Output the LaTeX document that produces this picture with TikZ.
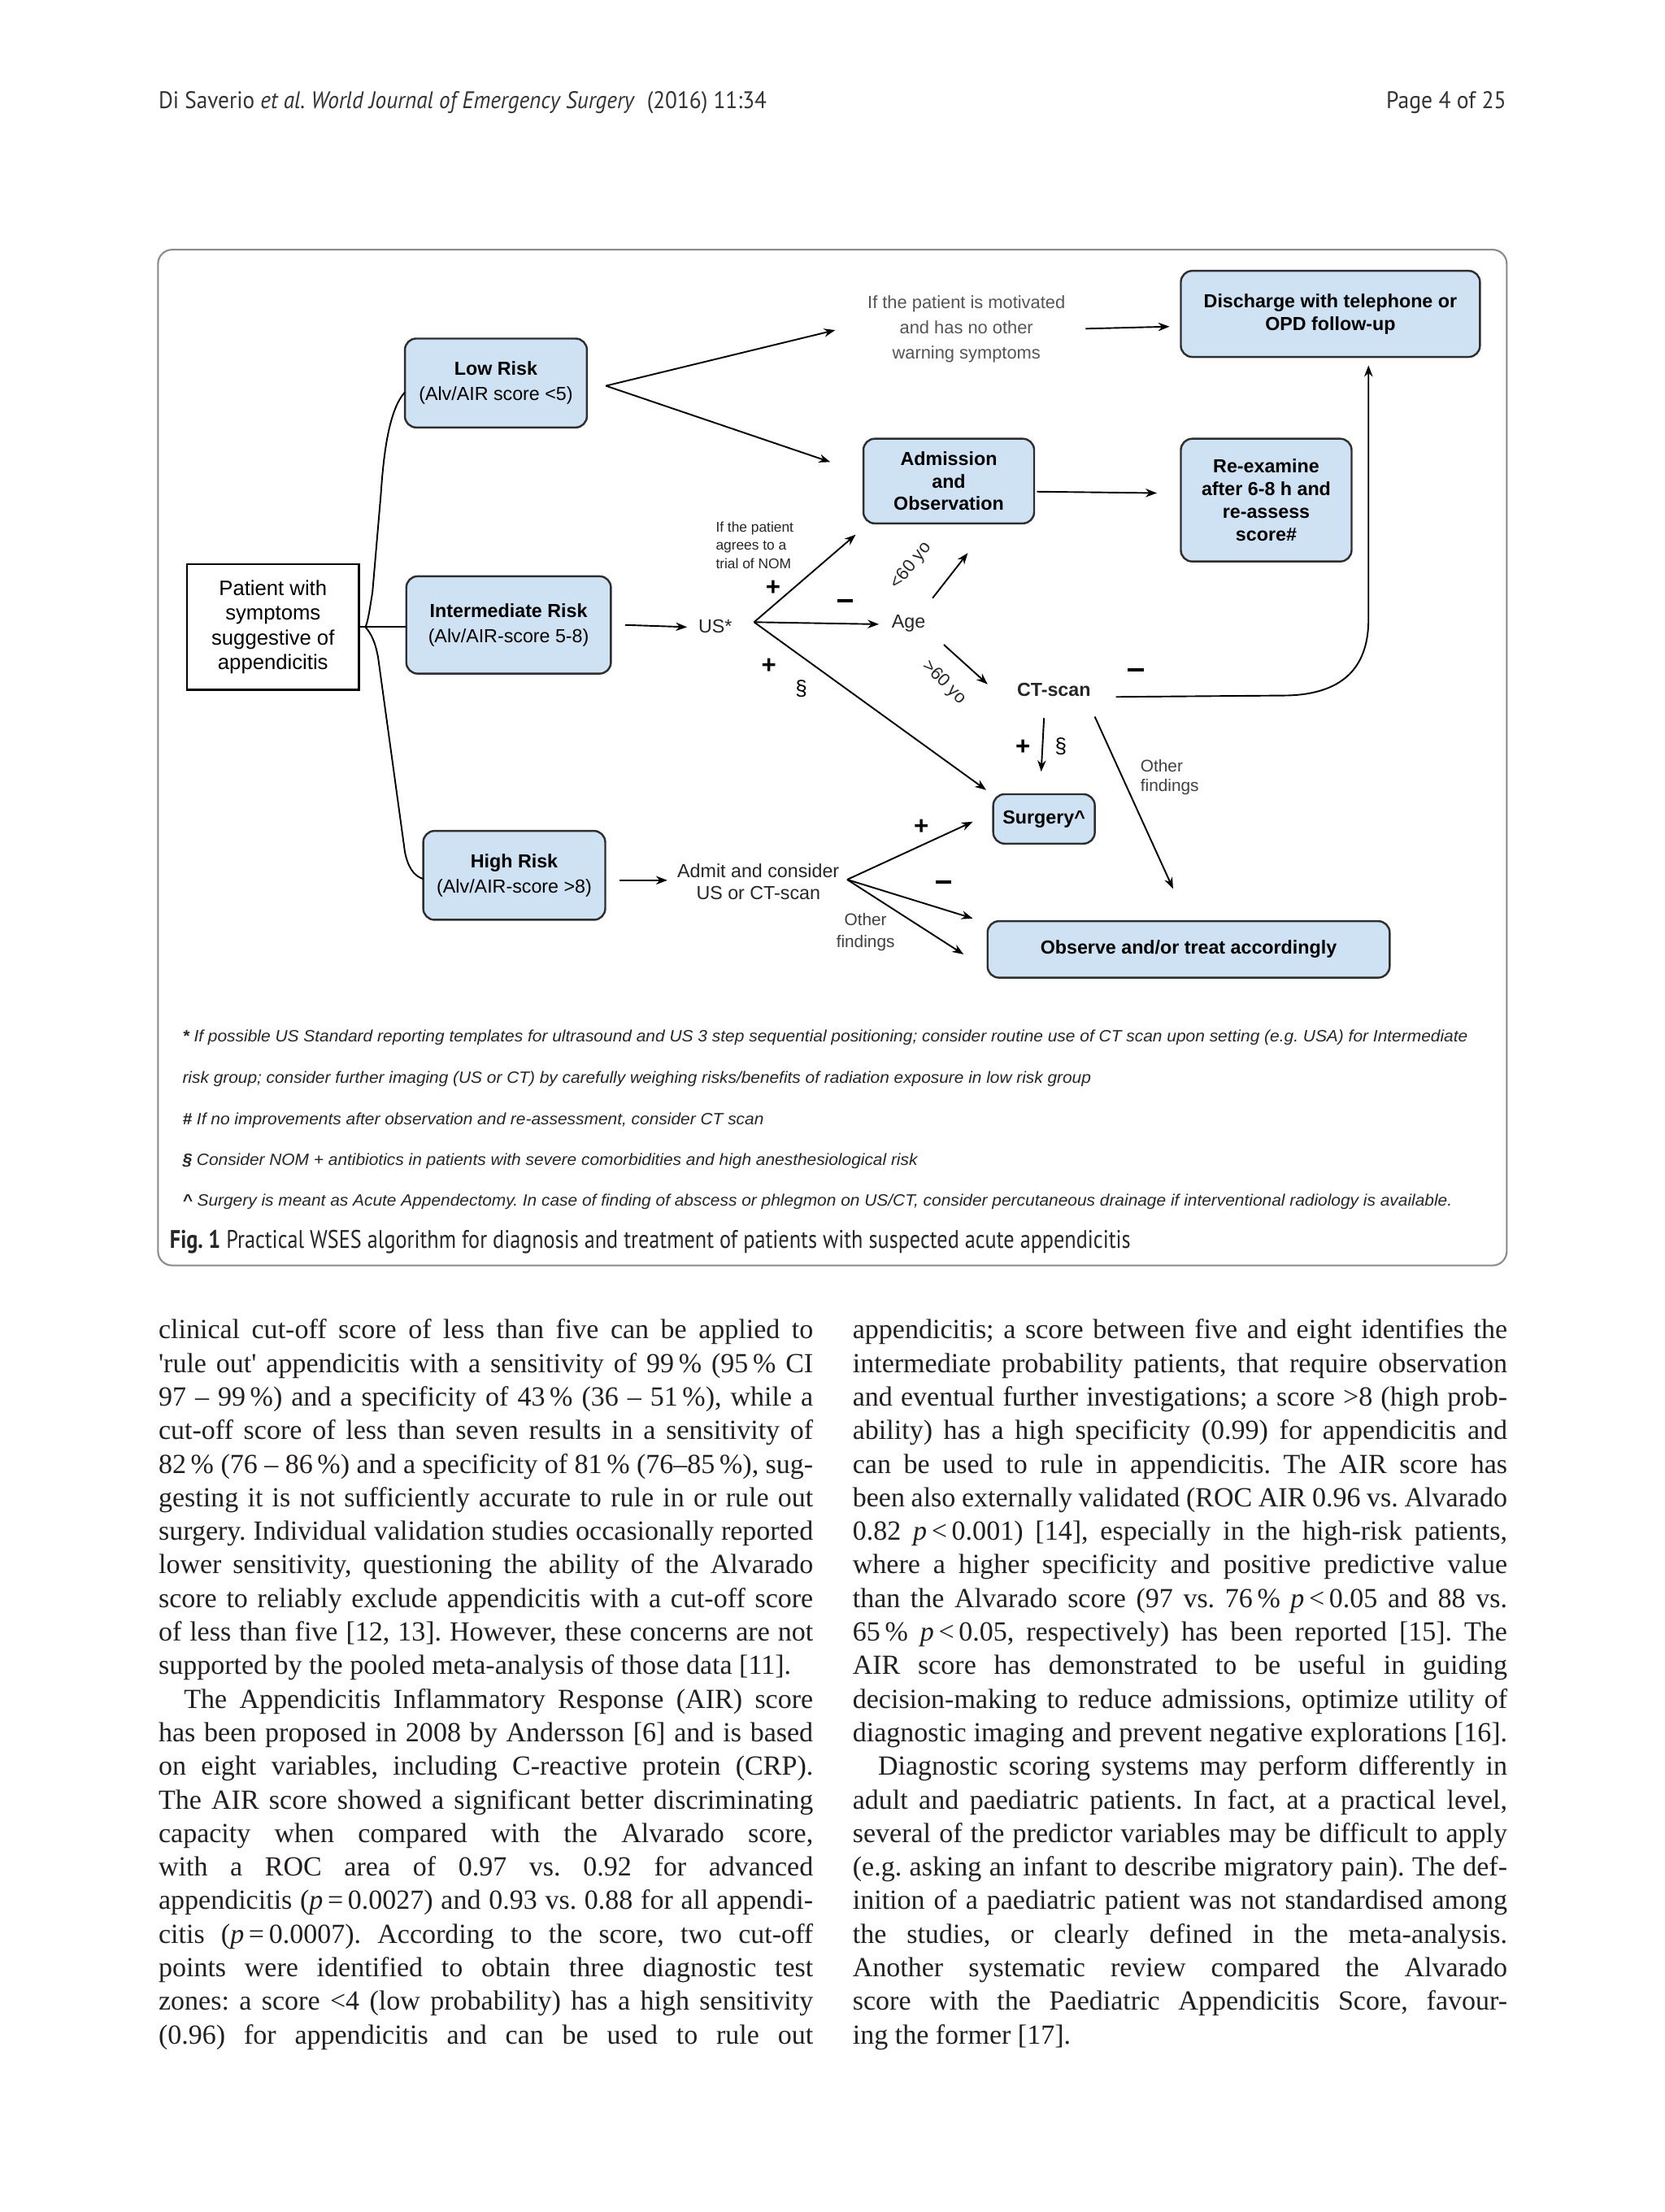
\documentclass[tikz,border=0pt]{standalone}
\usepackage{fontspec}
\usepackage{graphicx}
\setmainfont{Liberation Serif}
\newfontfamily\arialf[Ligatures=TeX]{Liberation Sans}
\newfontfamily\ptsans[Ligatures=TeX]{PT Sans}
\usetikzlibrary{arrows.meta,positioning}
\definecolor{boxblue}{HTML}{CFE2F3}
\definecolor{boxline}{HTML}{2E2E2E}
\definecolor{framegray}{HTML}{8A8A8A}
\definecolor{notegray}{HTML}{555555}
\definecolor{inkgray}{HTML}{231F20}
\newcommand{\bodyline}[1]{\makebox[232pt][s]{#1}}
\newcommand{\fitw}[2]{\resizebox{#1}{\height}{#2}}
\newcommand{\minusbar}{\rule{5.5pt}{1.1pt}}
\frenchspacing
\tikzset{
  conn/.style={line width=0.55pt, draw=black},
  arr/.style={conn, -{Stealth[length=4pt,width=3pt]}},
  riskbox/.style={draw=boxline, fill=boxblue, line width=0.7pt, rounded corners=4pt,
    align=center, inner sep=0pt, font=\arialf\fontsize{6.7}{9}\selectfont},
  boldbox/.style={riskbox, font=\arialf\bfseries\fontsize{6.7}{8}\selectfont},
  plainbox/.style={draw=black, line width=0.7pt, align=center, inner sep=0pt,
    font=\arialf\fontsize{7.4}{8.8}\selectfont},
  flowtxt/.style={align=center, inner sep=0pt, text=black!85, font=\arialf\fontsize{6.7}{7.8}\selectfont},
  sign/.style={inner sep=0pt, font=\arialf\bfseries\fontsize{9}{9}\selectfont},
  sect/.style={inner sep=0pt, font=\arialf\fontsize{7.5}{8}\selectfont},
  bodytxt/.style={anchor=base west, inner sep=0pt, text=inkgray, font=\fontsize{9.8}{11.9}\selectfont},
  notetxt/.style={anchor=base west, inner sep=0pt, text=black!85, font=\arialf\itshape\fontsize{5.8}{7}\selectfont},
}
\begin{document}
\begin{tikzpicture}[x=0.5pt,y=-0.5pt]
  \useasboundingbox (0,0) rectangle (1180,1568);
  \fill[white] (0,0) rectangle (1180,1568);
  % running head
  \node[anchor=base west, inner sep=0pt, text=black!80] (head) at (112,77)
    {\fitw{215.5pt}{\ptsans\fontsize{8.5}{10}\selectfont Di Saverio \textit{et al. World Journal of Emergency Surgery}\ \ (2016) 11:34}};
  \node[anchor=base east, inner sep=0pt, text=black!80] (page) at (1068,77)
    {\fitw{42.5pt}{\ptsans\fontsize{8.5}{10}\selectfont Page 4 of 25}};
  % figure frame
  \draw[framegray, line width=0.6pt, rounded corners=5pt] (112,177) rectangle (1068,897);

  % boxes
  \node[plainbox, minimum width=61pt, minimum height=44.5pt] (patient) at (193.5,444.5)
    {Patient with\\symptoms\\suggestive of\\appendicitis};
  \node[riskbox, minimum width=64.5pt, minimum height=31.5pt] (low) at (351.5,271.5)
    {\textbf{Low Risk}\\(Alv/AIR score <5)};
  \node[riskbox, minimum width=72.5pt, minimum height=34.5pt] (inter) at (360.5,443)
    {\textbf{Intermediate Risk}\\(Alv/AIR-score 5-8)};
  \node[riskbox, minimum width=64.5pt, minimum height=31.5pt] (high) at (364.5,620.5)
    {\textbf{High Risk}\\(Alv/AIR-score >8)};
  \node[boldbox, minimum width=106pt, minimum height=30.5pt] (disch) at (943,222.5)
    {Discharge with telephone or\\OPD follow-up};
  \node[boldbox, minimum width=60.5pt, minimum height=30pt] (adm) at (672.5,341)
    {Admission\\and\\Observation};
  \node[boldbox, minimum width=60.5pt, minimum height=43.5pt] (reex) at (897.5,354.5)
    {Re-examine\\after 6-8 h and\\re-assess\\score\#};
  \node[boldbox, minimum width=36pt, minimum height=17.5pt] (surg) at (740,580.5)
    {Surgery\textasciicircum};
  \node[boldbox, minimum width=142.5pt, minimum height=20pt] (obs) at (842.5,673)
    {Observe and/or treat accordingly};

  % free texts
  \node[flowtxt, text=notegray, font=\arialf\fontsize{6.3}{8.9}\selectfont] (motiv) at (685,233.5)
    {If the patient is motivated\\and has no other\\warning symptoms};
  \node[flowtxt] (us) at (507,444) {US*};
  \node[flowtxt, anchor=west, align=left, font=\arialf\fontsize{5}{6.5}\selectfont] (nom) at (507,386.5)
    {If the patient\\agrees to a\\trial of NOM};
  \node[flowtxt] (age) at (644,442) {Age};
  \node[flowtxt, font=\arialf\bfseries\fontsize{6.7}{8}\selectfont] (ct) at (747,489) {CT-scan};
  \node[flowtxt] (admit) at (537.5,624.8) {Admit and consider\\US or CT-scan};
  \node[flowtxt, anchor=west, align=left, text=black!75, font=\arialf\fontsize{6}{6.8}\selectfont] (otherct) at (808,551)
    {Other\\findings};
  \node[flowtxt, text=black!75, font=\arialf\fontsize{6}{7.8}\selectfont] (otherhi) at (613.5,661)
    {Other\\findings};
  \node[flowtxt, rotate=52, font=\arialf\fontsize{6.3}{7}\selectfont] (lt60) at (646,401) {<60 yo};
  \node[flowtxt, rotate=-45, font=\arialf\fontsize{6.3}{7}\selectfont] (gt60) at (669,484) {>60 yo};

  % signs
  \node[sign] (plusnom) at (548,417) {+};
  \node[sign] (minusage) at (599,426) {\minusbar};
  \node[sign] (plussurg) at (545,472) {+};
  \node[sect] (sectus) at (568,488) {\S};
  \node[sign] (minusct) at (805,475) {\minusbar};
  \node[sign] (plusct) at (725,530) {+};
  \node[sect] (sectct) at (752,529) {\S};
  \node[sign] (plushi) at (653,586) {+};
  \node[sign] (minushi) at (669,625) {\minusbar};

  % connector end points
  \coordinate (tip) at (259,444.5);
  \coordinate (lowin) at (287,278);
  \coordinate (highin) at (300,623);
  \coordinate (lowfork) at (429.5,273.5);
  \coordinate (motivin) at (592,234);
  \coordinate (admin) at (588.5,327.5);
  \coordinate (motivout) at (769.5,233);
  \coordinate (dischin) at (829,231.5);
  \coordinate (admout) at (735,348.5);
  \coordinate (reexin) at (820,349.5);
  \coordinate (interout) at (443,443);
  \coordinate (usin) at (487,444.5);
  \coordinate (usfork) at (534.5,441);
  \coordinate (nomup) at (606.5,379);
  \coordinate (agein) at (623,442.5);
  \coordinate (surgin) at (699,560);
  \coordinate (ltfrom) at (661,424);
  \coordinate (ltto) at (686,392);
  \coordinate (gtfrom) at (669,457);
  \coordinate (gtto) at (700,485);
  \coordinate (ctout) at (791,494);
  \coordinate (dischbot) at (970,259);
  \coordinate (ctdown) at (740,509);
  \coordinate (surgtop) at (738,547);
  \coordinate (ctdiag) at (776,508);
  \coordinate (obstop) at (831.5,630);
  \coordinate (highout) at (439,624);
  \coordinate (admitin) at (473,624);
  \coordinate (hifork) at (600.5,623.5);
  \coordinate (hisurg) at (689.5,582.5);
  \coordinate (hiobs) at (689.5,651);
  \coordinate (hiother) at (683,676.5);

  % brace from the patient box to the three risk groups
  \draw[conn] (lowin) .. controls (276,290) and (272,320) .. (270,350) -- (264,420)
    .. controls (262,432) and (261,440) .. (tip)
    .. controls (263,449) and (266,455) .. (268,466) -- (287,604)
    .. controls (289,614) and (293,621) .. (highin);
  \draw[conn] (patient.east) -- (tip) -- (tip -| inter.west);

  % low risk
  \draw[arr] (lowfork) -- (motivin);
  \draw[arr] (lowfork) -- (admin);
  \draw[arr] (motivout) -- (dischin);
  \draw[arr] (admout) -- (reexin);

  % intermediate risk
  \draw[arr] (interout) -- (usin);
  \draw[arr] (usfork) -- (nomup);
  \draw[arr] (usfork) -- (agein);
  \draw[arr] (usfork) -- (surgin);
  \draw[arr] (ltfrom) -- (ltto);
  \draw[arr] (gtfrom) -- (gtto);
  \draw[arr] (ctout) -- (912,493) .. controls (955,492) and (970,470) .. (970,439) -- (dischbot);
  \draw[arr] (ctdown) -- (surgtop);
  \draw[arr] (ctdiag) -- (obstop);

  % high risk
  \draw[arr] (highout) -- (admitin);
  \draw[arr] (hifork) -- (hisurg);
  \draw[arr] (hifork) -- (hiobs);
  \draw[arr] (hifork) -- (hiother);

  % footnotes and caption
  \node[notetxt] (note1) at (129,738.5) {\fitw{455.5pt}{\textbf{*} If possible US Standard reporting templates for ultrasound and US 3 step sequential positioning; consider routine use of CT scan upon setting (e.g. USA) for Intermediate}};
  \node[notetxt] (note2) at (129,768) {\fitw{322pt}{risk group; consider further imaging (US or CT) by carefully weighing risks/benefits of radiation exposure in low risk group}};
  \node[notetxt] (note3) at (129,797) {\fitw{206pt}{\textbf{\#} If no improvements after observation and re-assessment, consider CT scan}};
  \node[notetxt] (note4) at (129,826) {\fitw{260.5pt}{\textbf{\S} Consider NOM + antibiotics in patients with severe comorbidities and high anesthesiological risk}};
  \node[notetxt] (note5) at (129,855) {\fitw{450pt}{\textbf{\textasciicircum} Surgery is meant as Acute Appendectomy. In case of finding of abscess or phlegmon on US/CT, consider percutaneous drainage if interventional radiology is available.}};
  \node[anchor=base west, inner sep=0pt, text=black!85] (caption) at (120,885)
    {\fitw{340.5pt}{\ptsans\fontsize{9}{11}\selectfont\textbf{Fig. 1} Practical WSES algorithm for diagnosis and treatment of patients with suspected acute appendicitis}};

  % left column
  \node[bodytxt] (l1) at (112,949) {\bodyline{clinical cut-off score of less than five can be applied to}};
  \node[bodytxt] (l2) at (112,972.8) {\bodyline{\textquotesingle rule out\textquotesingle{} appendicitis with a sensitivity of 99\,\% (95\,\% CI}};
  \node[bodytxt] (l3) at (112,996.6) {\bodyline{97 -- 99\,\%) and a specificity of 43\,\% (36 -- 51\,\%), while a}};
  \node[bodytxt] (l4) at (112,1020.4) {\bodyline{cut-off score of less than seven results in a sensitivity of}};
  \node[bodytxt] (l5) at (112,1044.2) {\bodyline{82\,\% (76 -- 86\,\%) and a specificity of 81\,\% (76--85\,\%), sug-}};
  \node[bodytxt] (l6) at (112,1068) {\bodyline{gesting it is not sufficiently accurate to rule in or rule out}};
  \node[bodytxt] (l7) at (112,1091.8) {\bodyline{surgery. Individual validation studies occasionally reported}};
  \node[bodytxt] (l8) at (112,1115.6) {\bodyline{lower sensitivity, questioning the ability of the Alvarado}};
  \node[bodytxt] (l9) at (112,1139.4) {\bodyline{score to reliably exclude appendicitis with a cut-off score}};
  \node[bodytxt] (l10) at (112,1163.2) {\bodyline{of less than five [12, 13]. However, these concerns are not}};
  \node[bodytxt] (l11) at (112,1187) {supported by the pooled meta-analysis of those data [11].};
  \node[bodytxt] (l12) at (130,1210.8) {\makebox[223pt][s]{The Appendicitis Inflammatory Response (AIR) score}};
  \node[bodytxt] (l13) at (112,1234.6) {\bodyline{has been proposed in 2008 by Andersson [6] and is based}};
  \node[bodytxt] (l14) at (112,1258.4) {\bodyline{on eight variables, including C-reactive protein (CRP).}};
  \node[bodytxt] (l15) at (112,1282.2) {\bodyline{The AIR score showed a significant better discriminating}};
  \node[bodytxt] (l16) at (112,1306) {\bodyline{capacity when compared with the Alvarado score,}};
  \node[bodytxt] (l17) at (112,1329.8) {\bodyline{with a ROC area of 0.97 vs. 0.92 for advanced}};
  \node[bodytxt] (l18) at (112,1353.6) {\bodyline{appendicitis (\textit{p}\,=\,0.0027) and 0.93 vs. 0.88 for all appendi-}};
  \node[bodytxt] (l19) at (112,1377.4) {\bodyline{citis (\textit{p}\,=\,0.0007). According to the score, two cut-off}};
  \node[bodytxt] (l20) at (112,1401.2) {\bodyline{points were identified to obtain three diagnostic test}};
  \node[bodytxt] (l21) at (112,1425) {\bodyline{zones: a score <4 (low probability) has a high sensitivity}};
  \node[bodytxt] (l22) at (112,1448.8) {\bodyline{(0.96) for appendicitis and can be used to rule out}};

  % right column
  \node[bodytxt] (r1) at (604,949) {\bodyline{appendicitis; a score between five and eight identifies the}};
  \node[bodytxt] (r2) at (604,972.8) {\bodyline{intermediate probability patients, that require observation}};
  \node[bodytxt] (r3) at (604,996.6) {\bodyline{and eventual further investigations; a score >8 (high prob-}};
  \node[bodytxt] (r4) at (604,1020.4) {\bodyline{ability) has a high specificity (0.99) for appendicitis and}};
  \node[bodytxt] (r5) at (604,1044.2) {\bodyline{can be used to rule in appendicitis. The AIR score has}};
  \node[bodytxt] (r6) at (604,1068) {\bodyline{been also externally validated (ROC AIR 0.96 vs. Alvarado}};
  \node[bodytxt] (r7) at (604,1091.8) {\bodyline{0.82 \textit{p}\,<\,0.001) [14], especially in the high-risk patients,}};
  \node[bodytxt] (r8) at (604,1115.6) {\bodyline{where a higher specificity and positive predictive value}};
  \node[bodytxt] (r9) at (604,1139.4) {\bodyline{than the Alvarado score (97 vs. 76\,\% \textit{p}\,<\,0.05 and 88 vs.}};
  \node[bodytxt] (r10) at (604,1163.2) {\bodyline{65\,\% \textit{p}\,<\,0.05, respectively) has been reported [15]. The}};
  \node[bodytxt] (r11) at (604,1187) {\bodyline{AIR score has demonstrated to be useful in guiding}};
  \node[bodytxt] (r12) at (604,1210.8) {\bodyline{decision-making to reduce admissions, optimize utility of}};
  \node[bodytxt] (r13) at (604,1234.6) {\bodyline{diagnostic imaging and prevent negative explorations [16].}};
  \node[bodytxt] (r14) at (622,1258.4) {\makebox[223pt][s]{Diagnostic scoring systems may perform differently in}};
  \node[bodytxt] (r15) at (604,1282.2) {\bodyline{adult and paediatric patients. In fact, at a practical level,}};
  \node[bodytxt] (r16) at (604,1306) {\bodyline{several of the predictor variables may be difficult to apply}};
  \node[bodytxt] (r17) at (604,1329.8) {\bodyline{(e.g. asking an infant to describe migratory pain). The def-}};
  \node[bodytxt] (r18) at (604,1353.6) {\bodyline{inition of a paediatric patient was not standardised among}};
  \node[bodytxt] (r19) at (604,1377.4) {\bodyline{the studies, or clearly defined in the meta-analysis.}};
  \node[bodytxt] (r20) at (604,1401.2) {\bodyline{Another systematic review compared the Alvarado}};
  \node[bodytxt] (r21) at (604,1425) {\bodyline{score with the Paediatric Appendicitis Score, favour-}};
  \node[bodytxt] (r22) at (604,1448.8) {ing the former [17].};
\end{tikzpicture}
\end{document}
